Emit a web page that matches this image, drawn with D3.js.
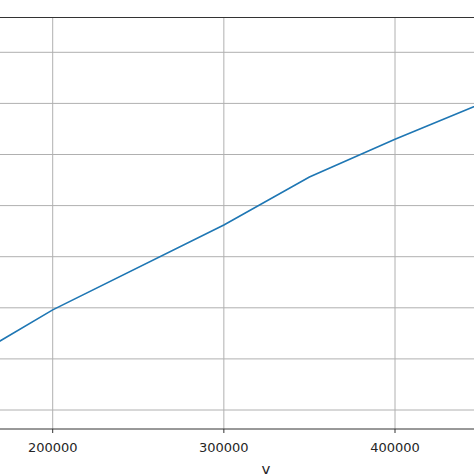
<!DOCTYPE html><html><head><script src="https://cdn.jsdelivr.net/npm/d3@7"></script>
<style>body{margin:0}svg{display:block}</style></head><body><script>
const xs=[150000,200000,300000,350000,400000,450000,500000];
const ys=[0.97,1.96,3.62,4.56,5.30,5.99,6.68];
const xTicks=[200000,300000,400000];
const yTicks=[0,1,2,3,4,5,6,7];
(function(){
const W=474,H=474;
const svg=d3.select("body").append("svg").attr("width",W).attr("height",H);
const x=d3.scaleLinear().domain([200000,400000]).range([52.7,395]);
const y=d3.scaleLinear().domain([0,7]).range([410,52.3]);
const pTop=17.5,pBot=429,pLeft=-5,pRight=476;
svg.append("defs").append("clipPath").attr("id","c").append("rect").attr("x",pLeft).attr("y",pTop).attr("width",pRight-pLeft).attr("height",pBot-pTop);
const g=svg.append("g");
g.selectAll(".vx").data(xTicks).join("line").attr("x1",d=>x(d)).attr("x2",d=>x(d)).attr("y1",pTop).attr("y2",pBot).attr("stroke","#b0b0b0").attr("stroke-width",1);
g.selectAll(".hy").data(yTicks).join("line").attr("y1",d=>y(d)).attr("y2",d=>y(d)).attr("x1",pLeft).attr("x2",pRight).attr("stroke","#b0b0b0").attr("stroke-width",1);
g.append("path").datum(xs.map((d,i)=>[d,ys[i]])).attr("clip-path","url(#c)").attr("d",d3.line().x(d=>x(d[0])).y(d=>y(d[1]))).attr("fill","none").attr("stroke","#1f77b4").attr("stroke-width",1.6);
g.append("rect").attr("x",pLeft).attr("y",pTop).attr("width",pRight-pLeft).attr("height",pBot-pTop).attr("fill","none").attr("stroke","#333").attr("stroke-width",1);
g.selectAll(".tk").data(xTicks).join("line").attr("x1",d=>x(d)).attr("x2",d=>x(d)).attr("y1",pBot).attr("y2",pBot+4).attr("stroke","#333");
g.selectAll(".tl").data(xTicks).join("text").attr("x",d=>x(d)).attr("y",452).attr("text-anchor","middle").attr("font-family","DejaVu Sans").attr("font-size",13).attr("fill","#262626").text(d=>d);
svg.append("text").attr("x",266).attr("y",475).attr("text-anchor","middle").attr("font-family","DejaVu Sans").attr("font-size",15).attr("fill","#262626").text("y");
})();
</script></body></html>
